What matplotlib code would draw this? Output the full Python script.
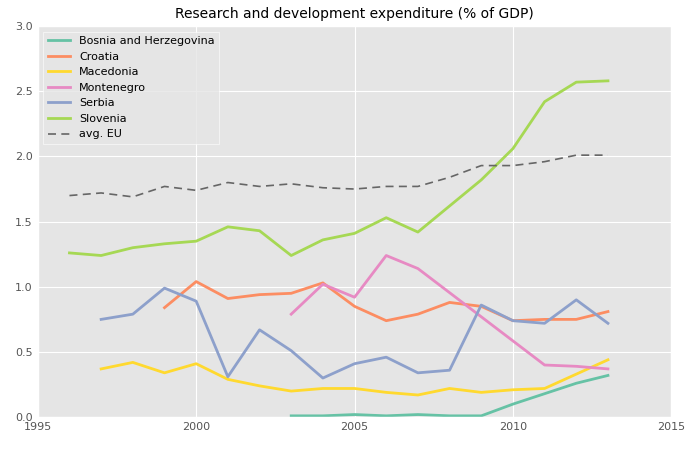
import matplotlib
matplotlib.use("Agg")
import matplotlib.pyplot as plt

# years and values (% of GDP)
bih_years = list(range(2003, 2014))
bih = [0.01, 0.01, 0.02, 0.01, 0.02, 0.01, 0.01, 0.10, 0.18, 0.26, 0.32]

cro_years = list(range(1999, 2014))
cro = [0.84, 1.04, 0.91, 0.94, 0.95, 1.03, 0.85, 0.74, 0.79, 0.88, 0.85,
       0.74, 0.75, 0.75, 0.81]

mkd_years = list(range(1997, 2014))
mkd = [0.37, 0.42, 0.34, 0.41, 0.29, 0.24, 0.20, 0.22, 0.22, 0.19, 0.17,
       0.22, 0.19, 0.21, 0.22, 0.33, 0.44]

mne_years = [2003, 2004, 2005, 2006, 2007, 2011, 2012, 2013]
mne = [0.79, 1.02, 0.92, 1.24, 1.14, 0.40, 0.39, 0.37]

srb_years = list(range(1997, 2014))
srb = [0.75, 0.79, 0.99, 0.89, 0.31, 0.67, 0.51, 0.30, 0.41, 0.46, 0.34,
       0.36, 0.86, 0.74, 0.72, 0.90, 0.72]

svn_years = list(range(1996, 2014))
svn = [1.26, 1.24, 1.30, 1.33, 1.35, 1.46, 1.43, 1.24, 1.36, 1.41, 1.53,
       1.42, 1.62, 1.82, 2.06, 2.42, 2.57, 2.58]

eu_years = list(range(1996, 2014))
eu = [1.70, 1.72, 1.69, 1.77, 1.74, 1.80, 1.77, 1.79, 1.76, 1.75, 1.77,
      1.77, 1.84, 1.93, 1.93, 1.96, 2.01, 2.01]

series = [
    ("Bosnia and Herzegovina", bih_years, bih, "#66c2a5"),
    ("Croatia", cro_years, cro, "#fc8d62"),
    ("Macedonia", mkd_years, mkd, "#ffd92f"),
    ("Montenegro", mne_years, mne, "#e78ac3"),
    ("Serbia", srb_years, srb, "#8da0cb"),
    ("Slovenia", svn_years, svn, "#a6d854"),
]

plt.style.use("ggplot")
plt.rcParams["font.family"] = ["DejaVu Sans"]

fig, ax = plt.subplots(figsize=(7, 4.5), dpi=100)
fig.subplots_adjust(left=0.054, right=0.959, top=0.942, bottom=0.073)

for name, years, values, color in series:
    ax.plot(years, values, color=color, linewidth=2, label=name)
ax.plot(eu_years, eu, color="#666666", linestyle="--", linewidth=1.2,
        dashes=(4.8, 3.2), label="avg. EU")

ax.set_xlim(1995, 2015)
ax.set_ylim(0, 3.0)
ax.set_xticks([1995, 2000, 2005, 2010, 2015])
ax.set_yticks([0.0, 0.5, 1.0, 1.5, 2.0, 2.5, 3.0])
ax.tick_params(labelsize=8, colors="#555555", length=0)
ax.set_title("Research and development expenditure (% of GDP)", fontsize=10)

leg = ax.legend(loc="upper left", fontsize=8, frameon=True, fancybox=False,
                handlelength=2)
leg.get_frame().set_facecolor("#E5E5E5")
leg.get_frame().set_edgecolor("white")

fig.savefig("out.png", dpi=100)
